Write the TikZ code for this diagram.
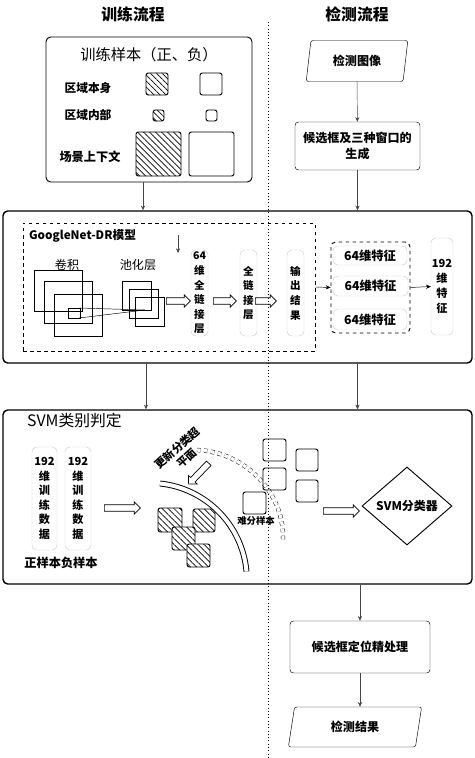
\documentclass[tikz,border=0pt]{standalone}
\usepackage{fontspec}
\setmainfont{Liberation Sans}
\newfontfamily\cjk{Noto Sans CJK SC}
\usetikzlibrary{shapes.geometric, shapes.arrows, arrows.meta, positioning, patterns.meta}

\newcommand{\fsz}[2]{\fontsize{#1}{#2}\selectfont}

\begin{document}
\begin{tikzpicture}[x=0.03cm, y=-0.03cm, >={Stealth[length=4pt,width=3.5pt]}, font=\cjk]
	\tikzstyle{frame} = [draw, thick, rounded corners=4pt, inner sep=0pt]
	\tikzstyle{flow} = [draw, rounded corners=3pt, align=center, inner sep=2pt, font=\cjk\bfseries\fsz{10.3}{14}]
	\tikzstyle{io} = [draw, trapezium, trapezium left angle=78, trapezium right angle=102, trapezium stretches=true, rounded corners=2pt, inner sep=0pt, font=\cjk\bfseries\fsz{10.3}{12}]
	\tikzstyle{slab} = [draw=gray!40, rounded corners=4pt, inner sep=0pt, align=center, font=\cjk\bfseries\fsz{9}{12.5}]
	\tikzstyle{link} = [->, draw=gray!55!black]
	\tikzstyle{hollow} = [draw, semithick, single arrow, single arrow head extend=2.5pt, single arrow head indent=0pt, inner xsep=0pt, inner ysep=2.4pt, anchor=tail]
	\tikzstyle{hatchsq} = [draw, thick, rounded corners=2pt, preaction={fill=white}, pattern={Lines[angle=-45, distance=3.6pt, line width=0.6pt]}]
	\tikzstyle{plainsq} = [draw, thick, rounded corners=2pt]

	\useasboundingbox (0,0) rectangle (474,758);

	% lane headings and divider
	\node[font=\cjk\bfseries\fsz{13.5}{16}] (trainhead) at (133,14) {训练流程};
	\node[font=\cjk\bfseries\fsz{13.5}{16}] (testhead) at (357,14) {检测流程};
	\draw[dotted, thick] (268,22) -- (268,758);

	% training samples
	\node[frame, minimum width=6.18cm, minimum height=4.35cm] (samples) at (149,109.5) {};
	\node[font=\cjk\fsz{13}{15}] (samplestitle) at (149,55) {训练样本（正、负）};
	\node[font=\cjk\bfseries\fsz{10}{12}] (lself) at (88,88) {区域本身};
	\node[font=\cjk\bfseries\fsz{10}{12}] (linner) at (88,115) {区域内部};
	\node[font=\cjk\bfseries\fsz{10.4}{12}] (lctx) at (90,157) {场景上下文};
	\draw[hatchsq] (146,73) rectangle (168,95);
	\draw[plainsq] (200,73) rectangle (222,95);
	\draw[hatchsq] (153,110) rectangle (164,121);
	\draw[plainsq] (206,110) rectangle (217,121);
	\draw[hatchsq] (136,132) rectangle (181,176);
	\draw[plainsq] (189,132) rectangle (234,176);

	% detection input
	\node[io, minimum width=3.05cm, minimum height=1.23cm] (image) at (357,61) {检测图像};
	\node[flow, minimum width=3.75cm, minimum height=1.44cm] (cands) at (357.5,146) {候选框及三种窗口的\\生成};

	% feature extraction
	\node[frame, line width=1.2pt, minimum width=14.07cm, minimum height=4.56cm] (features) at (237.5,287) {};
	\node[draw, dashed, thick, minimum width=8.76cm, minimum height=3.84cm, inner sep=0pt] (model) at (169,287) {};
	\node[anchor=west, font=\cjk\bfseries\fsz{10}{12}] (modeltitle) at (25,236) {GoogleNet-DR模型};
	\coordinate (drop) at (178,235);
	\coordinate (dropend) at (178,253);
	\draw[link] (drop) -- (dropend);

	\node[font=\cjk\fsz{10.3}{12}] (convlabel) at (67,265) {卷积};
	\node[font=\cjk\fsz{10.3}{12}] (poollabel) at (138,265) {池化层};
	\draw (34,270) rectangle (82,311);
	\draw (44,281) rectangle (92,323);
	\draw (54,294) rectangle (102,336);
	\draw (68,308) rectangle (80,318);
	\draw (122,281) rectangle (151,310);
	\draw (129,289) rectangle (158,318);
	\draw (135,297) rectangle (164,326);
	\draw (79,308) -- (145,310);
	\draw (79,318) -- (145,310);

	\node[slab, minimum width=0.51cm, minimum height=2.58cm] (fcA) at (199.5,293) {64\\维\\全\\链\\接\\层};
	\node[slab, minimum width=0.51cm, minimum height=2.58cm] (fcB) at (248.5,293) {全\\链\\接\\层};
	\node[slab, minimum width=0.51cm, minimum height=2.58cm] (outp) at (295.5,293) {输\\出\\结\\果};
	\node[hollow, minimum height=0.72cm] (hpool) at (166,301) {};
	\node[hollow, minimum height=0.69cm] (hfc) at (213,301) {};
	\node[hollow, minimum height=0.63cm] (hout) at (255,301) {};

	\node[draw, dashed, thick, rounded corners=4pt, minimum width=2.37cm, minimum height=2.73cm] (three) at (370.5,287.5) {};
	\node[slab, minimum width=2.22cm, minimum height=0.57cm, font=\cjk\bfseries\fsz{10.5}{12}] (featA) at (370,255.5) {64维特征};
	\node[slab, minimum width=2.25cm, minimum height=0.6cm, font=\cjk\bfseries\fsz{10.5}{12}] (featB) at (370.5,286) {64维特征};
	\node[slab, minimum width=2.22cm, minimum height=0.63cm, font=\cjk\bfseries\fsz{10.5}{12}] (featC) at (370,319.5) {64维特征};
	\node[slab, minimum width=0.66cm, minimum height=2.91cm, font=\cjk\bfseries\fsz{9.5}{12.7}] (feat192) at (442,286.5) {192\\维\\特\\征};
	\draw[->] (model.east) -- (three.west);
	\draw[->] (three.east) -- (feat192.west);

	% connections between stages
	\draw[link] ([xshift=-0.18cm]samples.south) -- ([xshift=-0.18cm]samples.south |- features.north);
	\draw[link] (image) -- (cands);
	\draw[link] (cands) -- (cands |- features.north);

	% SVM stage
	\node[frame, line width=1.2pt, minimum width=14.07cm, minimum height=5.22cm] (svmbox) at (237.5,497) {};
	\node[anchor=west, font=\cjk\fsz{13.5}{16}] (svmtitle) at (23,420) {SVM类别判定};
	\draw[link] ([xshift=-0.09cm]features.south -| samples.south) -- ([xshift=-0.09cm]svmbox.north -| samples.south);
	\draw[link] (features.south -| cands.south) -- (svmbox.north -| cands.south);

	\node[slab, minimum width=0.75cm, minimum height=3.09cm, font=\cjk\bfseries\fsz{9.5}{12.4}] (posdata) at (44.5,498.5) {192\\维\\训\\练\\数\\据};
	\node[slab, minimum width=0.78cm, minimum height=3.09cm, font=\cjk\bfseries\fsz{9.5}{12.4}] (negdata) at (78,498.5) {192\\维\\训\\练\\数\\据};
	\node[font=\cjk\bfseries\fsz{10.4}{12}] (pnlabel) at (61,563) {正样本负样本};
	\node[hollow, minimum height=1.08cm] (htrain) at (104,508) {};

	\draw[hatchsq] (158,508) rectangle (182,532);
	\draw[hatchsq] (193,509) rectangle (215,532);
	\draw[hatchsq] (172,527) rectangle (195,550);
	\draw[hatchsq] (187,544) rectangle (210,567);

	% hyperplane and its update
	\draw[double, double distance=0.12cm, thick] (160,483.5) arc[start angle=-84, end angle=-5, radius=97];
	\draw[dashed, double, double distance=0.1cm] (197,450) .. controls (247,452) and (285,495) .. (283,540);
	\node[rotate=42, align=center, inner sep=0pt, font=\cjk\bfseries\fsz{9.5}{11.5}] (update) at (182,453) {更新分类超\\平面};
	\node[hollow, minimum height=0.87cm, rotate=226] (hupd) at (209,463) {};

	\draw[plainsq] (263,439) rectangle (286,461);
	\draw[plainsq] (296,449) rectangle (318,471);
	\draw[plainsq] (263,468) rectangle (286,490);
	\draw[plainsq] (296,480) rectangle (318,502);
	\draw[plainsq] (243,492) rectangle (266,514);
	\node[font=\cjk\bfseries\fsz{8}{10}] (hardlabel) at (256,521) {难分样本};

	\node[draw, diamond, thick, minimum width=2.7cm, minimum height=2.34cm, inner sep=0pt, font=\cjk\bfseries\fsz{10.2}{12}] (clf) at (407,506) {SVM分类器};
	\node[hollow, minimum height=1.08cm] (hclf) at (323,511) {};

	% refinement and output
	\node[flow, minimum width=4.2cm, minimum height=1.56cm] (refine) at (360,647) {候选框定位精处理};
	\node[io, minimum width=4.0cm, minimum height=1.2cm] (result) at (355,727) {检测结果};
	\draw[link] (svmbox.south -| refine.north) -- (refine.north);
	\draw[link] (refine.south) -- (refine.south |- result.north);
\end{tikzpicture}
\end{document}
